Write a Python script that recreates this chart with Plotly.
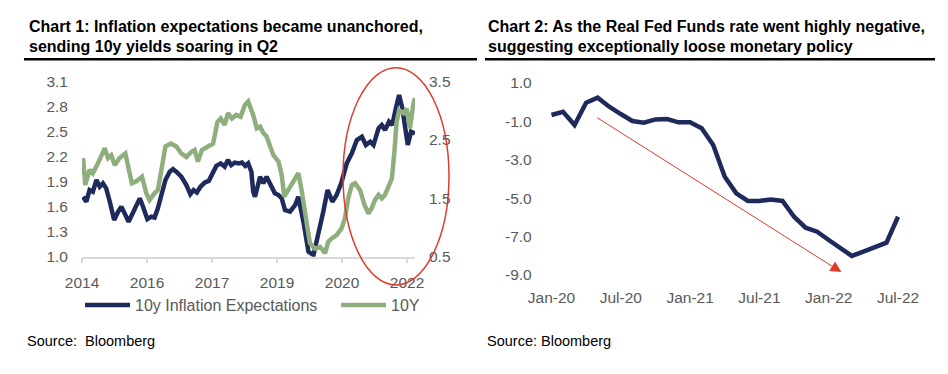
import plotly.graph_objects as go

# browser page adds an 8px body margin, so the figure is 16px smaller than the window
PAGE_W, PAGE_H = 948, 374
OFF = 8
W, H = PAGE_W - 2 * OFF, PAGE_H - 2 * OFF

# ---------------- Chart 1 data (x = months since start of series) ----------------
infl_x = [0.3, 1.2, 2.1, 3.0, 4.0, 4.9, 5.8, 6.7, 7.7, 8.9,
          10.0, 10.9, 11.8, 12.9, 13.8, 14.8, 16.0, 16.9, 18.1, 19.2,
          20.1, 21.0, 21.9, 23.1, 24.3, 25.2, 26.1, 27.5, 28.9, 30.0,
          30.9, 31.8, 32.8, 34.0, 35.1, 36.0, 37.2, 38.4, 39.5, 40.4,
          41.3, 42.3, 43.4, 44.3, 45.2, 46.0, 46.9, 47.4, 47.9, 49.3,
          50.2, 51.1, 52.1, 53.4, 54.4, 55.3, 56.2, 57.6, 59.0, 59.9,
          61.3, 62.7, 64.1, 65.4, 66.8, 68.0, 69.3, 70.5, 71.9, 73.3,
          74.7, 76.1, 77.5, 78.6, 79.8, 80.7, 82.1, 83.0, 83.9, 85.0,
          85.9, 86.9, 87.8, 88.7, 89.4, 90.2, 91.1, 92.2]
infl_exp = [1.72, 1.66, 1.80, 1.78, 1.92, 1.84, 1.88, 1.82, 1.66, 1.44,
            1.54, 1.60, 1.52, 1.42, 1.50, 1.60, 1.70, 1.60, 1.45, 1.48,
            1.47, 1.58, 1.74, 1.92, 2.02, 2.05, 2.02, 1.96, 1.86, 1.75,
            1.80, 1.77, 1.84, 1.89, 1.91, 1.98, 2.09, 2.12, 2.08, 2.16,
            2.10, 2.13, 2.12, 2.13, 2.09, 2.12, 2.02, 1.78, 1.72, 1.96,
            1.88, 1.96, 1.86, 1.76, 1.74, 1.70, 1.56, 1.54, 1.62, 1.72,
            1.42, 1.06, 1.02, 1.26, 1.54, 1.80, 1.66, 1.74, 1.90, 2.12,
            2.24, 2.40, 2.44, 2.34, 2.38, 2.34, 2.54, 2.58, 2.52, 2.62,
            2.58, 2.78, 2.94, 2.78, 2.58, 2.34, 2.50, 2.48]

y10_x = [0.3, 0.9, 2.1, 3.0, 4.4, 6.3, 7.2, 8.1, 9.1, 10.4,
         12.0, 12.9, 13.8, 15.0, 16.6, 17.8, 18.7, 20.1, 21.0, 21.9,
         23.1, 24.6, 26.1, 27.5, 28.9, 30.3, 31.2, 32.1, 33.2, 34.9,
         36.3, 37.5, 38.4, 39.5, 40.4, 41.5, 42.7, 43.9, 45.1, 46.0,
         46.9, 47.4, 48.4, 49.3, 50.2, 51.1, 52.1, 53.0, 54.4, 55.3,
         56.0, 57.1, 58.5, 59.9, 60.8, 61.7, 63.1, 64.5, 65.9, 67.3,
         68.2, 69.3, 70.5, 71.9, 72.8, 73.7, 74.7, 75.6, 77.0, 78.2,
         79.3, 80.2, 81.1, 82.1, 83.0, 83.9, 85.0, 85.8, 86.5, 87.1,
         87.8, 89.0, 89.9, 90.8, 91.7, 92.2]
y10 = [2.19, 1.73, 1.99, 1.93, 2.10, 2.36, 2.19, 2.24, 2.07, 2.19,
       2.27, 2.02, 1.76, 1.79, 1.87, 1.59, 1.47, 1.59, 1.64, 1.96,
       2.39, 2.44, 2.39, 2.27, 2.21, 2.30, 2.33, 2.13, 2.33, 2.39,
       2.44, 2.81, 2.87, 2.76, 2.96, 2.87, 2.93, 2.90, 3.10, 3.16,
       3.04, 2.93, 2.70, 2.73, 2.62, 2.56, 2.39, 2.24, 2.13, 1.90,
       1.53, 1.64, 1.76, 1.93, 1.64, 1.27, 0.73, 0.64, 0.67, 0.56,
       0.76, 0.82, 0.87, 0.99, 1.16, 1.50, 1.73, 1.76, 1.64, 1.39,
       1.24, 1.33, 1.47, 1.56, 1.50, 1.56, 1.73, 1.84, 2.30, 2.81,
       3.01, 2.96, 3.04, 2.70, 3.10, 3.22]

c1_tickvals = [0, 18, 36, 54, 72, 90]
c1_ticktext = ["2014", "2016", "2017", "2019", "2020", "2022"]
c1_left_ticks = [1.0, 1.3, 1.6, 1.9, 2.2, 2.5, 2.8, 3.1]
c1_right_ticks = [0.5, 1.5, 2.5, 3.5]

# ---------------- Chart 2 data ----------------
months = ["Jan-20", "Feb-20", "Mar-20", "Apr-20", "May-20", "Jun-20", "Jul-20", "Aug-20",
          "Sep-20", "Oct-20", "Nov-20", "Dec-20", "Jan-21", "Feb-21", "Mar-21", "Apr-21",
          "May-21", "Jun-21", "Jul-21", "Aug-21", "Sep-21", "Oct-21", "Nov-21", "Dec-21",
          "Jan-22", "Feb-22", "Mar-22", "Apr-22", "May-22", "Jun-22", "Jul-22"]
real_ffr = [-0.68, -0.51, -1.20, -0.04, 0.22, -0.25, -0.63, -0.99, -1.08, -0.91,
            -0.89, -1.06, -1.06, -1.37, -2.24, -3.89, -4.75, -5.15, -5.15, -5.07,
            -5.15, -5.97, -6.54, -6.75, -7.18, -7.61, -8.01, -7.79, -7.56, -7.32,
            -5.97]
c2_ticks_y = [1.0, -1.0, -3.0, -5.0, -7.0, -9.0]

NAVY = "#1F2A5C"
GREEN = "#8FAE7E"
RED = "#E03A2C"
GREY_TXT = "#595959"
AXIS_GREY = "#D9D9D9"
FAMILY = "Liberation Sans, Arial, sans-serif"
TICK_FONT = dict(family=FAMILY, size=15.5, color=GREY_TXT)
LEG_FONT = dict(family=FAMILY, size=16, color=GREY_TXT)


def px(x):
    """page pixel x -> paper fraction"""
    return (x - OFF) / W


def py(y):
    """page pixel y -> paper fraction"""
    return 1 - (y - OFF) / H


def fmt(vals):
    return [f"{v:.1f}" for v in vals]


fig = go.Figure()

fig.add_trace(go.Scatter(x=infl_x, y=infl_exp, name="10y Inflation Expectations",
                         mode="lines", line=dict(color=NAVY, width=4.5),
                         xaxis="x", yaxis="y", legend="legend"))
fig.add_trace(go.Scatter(x=y10_x, y=y10, name="10Y",
                         mode="lines", line=dict(color=GREEN, width=4.5),
                         xaxis="x", yaxis="y2", legend="legend2"))

x2_idx = list(range(len(months)))
fig.add_trace(go.Scatter(x=x2_idx, y=real_ffr, name="Real Fed Funds",
                         mode="lines", line=dict(color=NAVY, width=4.5),
                         showlegend=False, xaxis="x2", yaxis="y3"))

c1_dom_x = [px(82), px(415)]
c1_dom_y = [py(256.7), py(81.7)]
c2_dom_x = [px(545.7), px(903.8)]
c2_dom_y = [py(275), py(82.7)]
c2_range_y = [-9.0, 1.0]
zero_pos = c2_dom_y[0] + (0 - c2_range_y[0]) / (c2_range_y[1] - c2_range_y[0]) * (c2_dom_y[1] - c2_dom_y[0])

fig.update_layout(
    template="none",
    width=W, height=H,
    margin=dict(l=0, r=0, t=0, b=0, autoexpand=False),
    paper_bgcolor="white", plot_bgcolor="white",
    showlegend=True,
    legend=dict(orientation="h", x=px(80), y=py(305), xanchor="left", yanchor="middle",
                font=LEG_FONT, bgcolor="rgba(0,0,0,0)", itemwidth=45),
    legend2=dict(orientation="h", x=px(336), y=py(305), xanchor="left", yanchor="middle",
                 font=LEG_FONT, bgcolor="rgba(0,0,0,0)", itemwidth=45),
    xaxis=dict(domain=c1_dom_x, range=[0, 92.2], anchor="y", automargin=False,
               tickmode="array", tickvals=c1_tickvals, ticktext=c1_ticktext,
               showline=True, linecolor=AXIS_GREY, linewidth=1.5,
               ticks="outside", ticklen=5, tickcolor=AXIS_GREY, tickwidth=1.5,
               showgrid=False, zeroline=False, tickfont=TICK_FONT, ticklabelstandoff=6),
    yaxis=dict(domain=c1_dom_y, range=[1.0, 3.1], anchor="x", automargin=False,
               tickmode="array", tickvals=c1_left_ticks, ticktext=fmt(c1_left_ticks),
               showline=False, ticks="", showgrid=False, zeroline=False,
               tickfont=TICK_FONT, ticklabelstandoff=13),
    yaxis2=dict(range=[0.5, 3.5], overlaying="y", side="right", anchor="x", automargin=False,
                tickmode="array", tickvals=c1_right_ticks, ticktext=fmt(c1_right_ticks),
                showline=False, ticks="", showgrid=False, zeroline=False,
                tickfont=TICK_FONT, ticklabelstandoff=13),
    xaxis2=dict(domain=c2_dom_x, range=[-0.5, len(months) - 0.5], anchor="y3", automargin=False,
                tickmode="array", tickvals=x2_idx[::6], ticktext=months[::6],
                showline=False, ticks="", showgrid=False, zeroline=False,
                tickfont=TICK_FONT, ticklabelstandoff=11),
    xaxis3=dict(overlaying="x2", anchor="free", position=zero_pos, automargin=False,
                range=[-0.5, len(months) - 0.5],
                tickmode="array", tickvals=[v - 0.5 for v in x2_idx[::6]],
                showticklabels=False, showline=True, linecolor=AXIS_GREY, linewidth=1.5,
                ticks="outside", ticklen=5, tickcolor=AXIS_GREY, tickwidth=1.5,
                showgrid=False, zeroline=False),
    yaxis3=dict(domain=c2_dom_y, range=c2_range_y, anchor="x2", automargin=False,
                tickmode="array", tickvals=c2_ticks_y, ticktext=fmt(c2_ticks_y),
                showline=False, ticks="", showgrid=False, zeroline=False,
                tickfont=TICK_FONT, ticklabelstandoff=13),
)

TITLE_FONT = dict(family=FAMILY, size=16, color="black")
titles = [
    (27, 26.7, "Chart 1: Inflation expectations became unanchored,"),
    (27, 46.7, "sending 10y yields soaring in Q2"),
    (486, 26.7, "Chart 2: As the Real Fed Funds rate went highly negative,"),
    (486, 46.7, "suggesting exceptionally loose monetary policy"),
]
for tx, ty, t in titles:
    fig.add_annotation(x=px(tx), y=py(ty), xref="paper", yref="paper",
                       text="<b>" + t + "</b>", showarrow=False,
                       xanchor="left", yanchor="middle", font=TITLE_FONT)

SRC_FONT = dict(family=FAMILY, size=14.5, color="black")
fig.add_annotation(x=px(25), y=py(341), xref="paper", yref="paper",
                   text="Source:\u00a0 Bloomberg", showarrow=False,
                   xanchor="left", yanchor="middle", font=SRC_FONT)
fig.add_annotation(x=px(485), y=py(341), xref="paper", yref="paper",
                   text="Source: Bloomberg", showarrow=False,
                   xanchor="left", yanchor="middle", font=SRC_FONT)

# title underlines
fig.add_shape(type="line", xref="paper", yref="paper", x0=px(24), x1=px(477),
              y0=py(59.3), y1=py(59.3), line=dict(color="black", width=2.5))
fig.add_shape(type="line", xref="paper", yref="paper", x0=px(485), x1=px(935),
              y0=py(59.3), y1=py(59.3), line=dict(color="black", width=2.5))

# red ellipse highlight on chart 1
fig.add_shape(type="circle", xref="paper", yref="paper",
              x0=px(343), x1=px(449), y0=py(285), y1=py(67.7),
              line=dict(color=RED, width=1.5), fillcolor="rgba(0,0,0,0)")

# red trend arrow on chart 2
fig.add_annotation(x=25.1, y=-8.85, ax=3.83, ay=-0.77, xref="x2", yref="y3",
                   axref="x2", ayref="y3", text="", showarrow=True,
                   arrowhead=2, arrowsize=2.2, arrowwidth=1, arrowcolor=RED)

fig.write_html("out.html")
